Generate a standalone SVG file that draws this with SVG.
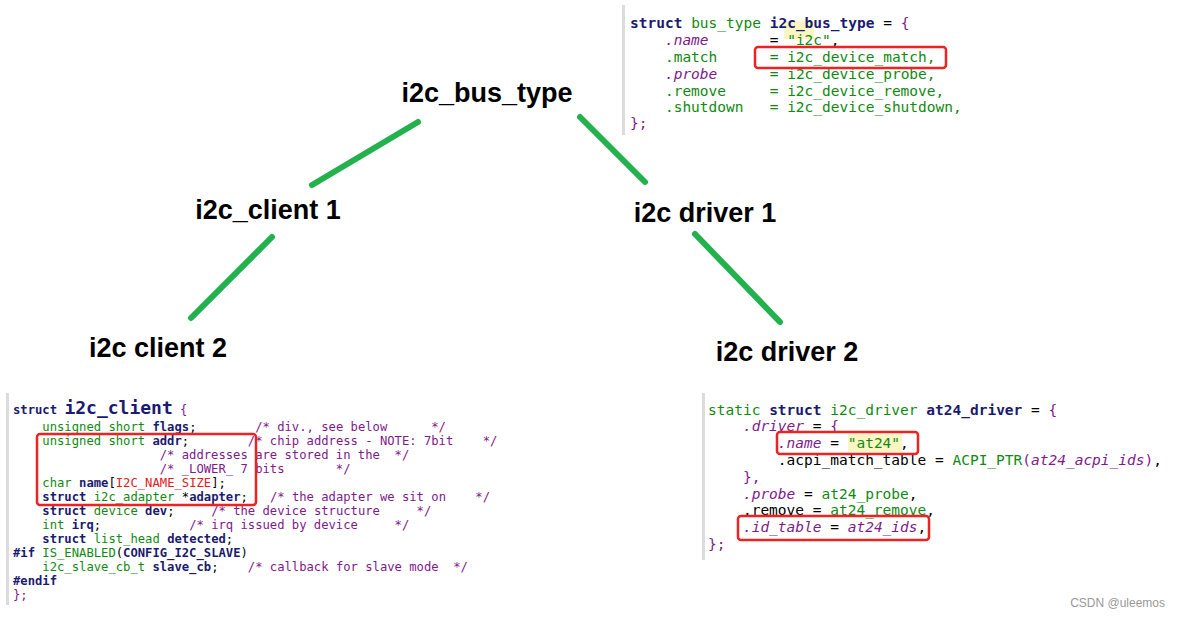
<svg xmlns="http://www.w3.org/2000/svg" width="1180" height="617" viewBox="0 0 1180 617">
<style>
.n{font-family:"Liberation Sans",Arial,sans-serif;font-weight:bold;font-size:27px;fill:#000;text-anchor:middle}
.c{font-family:"DejaVu Sans Mono","Liberation Mono",monospace;font-size:14.5px;fill:#000;white-space:pre}
.s{font-family:"DejaVu Sans Mono","Liberation Mono",monospace;font-size:12.2px;fill:#000;white-space:pre}
.k{fill:#1a1a6e;font-weight:bold}
.g{fill:#118a11}
.p{fill:#7f1a8a;font-style:italic}
.q{fill:#7f1a8a}
.r{fill:#e02020}
.box{fill:none;stroke:#ee2222;stroke-width:2.5}
.gut{fill:#dcdcdc}
.e line{stroke:#22b14c;stroke-width:6;stroke-linecap:round}
</style>
<rect width="1180" height="617" fill="#fff"/>
<g id="code-bus">
<rect class="gut" x="622" y="5" width="3" height="130"/>
<rect x="784" y="21" width="30" height="18" fill="#fbf5c4"/>
<text class="c" x="630" y="28"><tspan class="k">struct</tspan> <tspan class="g">bus_type</tspan> <tspan class="k">i2c_bus_type</tspan> = <tspan class="q">{</tspan></text>
<text class="c" x="630" y="45">    <tspan class="p">.name</tspan>       = <tspan class="g">"i2c"</tspan>,</text>
<text class="c g" x="630" y="62">    .match      = i2c_device_match,</text>
<text class="c" x="630" y="79">    <tspan class="p">.probe</tspan><tspan class="g">      = i2c_device_probe,</tspan></text>
<text class="c g" x="630" y="96">    .remove     = i2c_device_remove,</text>
<text class="c g" x="630" y="112">    .shutdown   = i2c_device_shutdown,</text>
<text class="c q" x="630" y="128">};</text>
<rect class="box" x="755" y="47" width="191" height="21" rx="3"/>
</g>
<g id="code-client">
<rect class="gut" x="6" y="393" width="3" height="212"/>
<text class="s" x="13" y="414"><tspan class="k">struct</tspan> <tspan class="k" style="font-size:18px">i2c_client</tspan> <tspan class="q">{</tspan></text>
<text class="s" x="13" y="431">    <tspan class="g">unsigned short</tspan> <tspan class="k">flags</tspan>;        <tspan class="q">/* div., see below      */</tspan></text>
<text class="s" x="13" y="445">    <tspan class="g">unsigned short</tspan> <tspan class="k">addr</tspan>;        <tspan class="q">/* chip address - NOTE: 7bit    */</tspan></text>
<text class="s q" x="13" y="459">                    /* addresses are stored in the  */</text>
<text class="s q" x="13" y="473">                    /* _LOWER_ 7 bits       */</text>
<text class="s" x="13" y="487">    <tspan class="g">char</tspan> <tspan class="k">name</tspan>[<tspan class="r">I2C_NAME_SIZE</tspan>];</text>
<text class="s" x="13" y="501">    <tspan class="k">struct</tspan> <tspan class="g">i2c_adapter</tspan> *<tspan class="k">adapter</tspan>;   <tspan class="q">/* the adapter we sit on    */</tspan></text>
<text class="s" x="13" y="515">    <tspan class="k">struct</tspan> <tspan class="g">device</tspan> <tspan class="k">dev</tspan>;     <tspan class="q">/* the device structure     */</tspan></text>
<text class="s" x="13" y="529">    <tspan class="g">int</tspan> <tspan class="k">irq</tspan>;            <tspan class="q">/* irq issued by device     */</tspan></text>
<text class="s" x="13" y="543">    <tspan class="k">struct</tspan> <tspan class="g">list_head</tspan> <tspan class="k">detected</tspan>;</text>
<text class="s" x="13" y="557"><tspan class="k">#if</tspan> <tspan class="g">IS_ENABLED</tspan>(<tspan class="k">CONFIG_I2C_SLAVE</tspan>)</text>
<text class="s" x="13" y="571">    <tspan class="g">i2c_slave_cb_t</tspan> <tspan class="k">slave_cb</tspan>;    <tspan class="q">/* callback for slave mode  */</tspan></text>
<text class="s k" x="13" y="585">#endif</text>
<text class="s q" x="13" y="599">};</text>
<rect class="box" x="37" y="434" width="219" height="71" rx="3"/>
</g>
<g id="code-driver">
<rect class="gut" x="702" y="393" width="3" height="167"/>
<rect x="848" y="434" width="54" height="18" fill="#fbf5c4"/>
<text class="c" x="708" y="415"><tspan class="g">static</tspan> <tspan class="k">struct</tspan> <tspan class="g">i2c_driver</tspan> <tspan class="k">at24_driver</tspan> = <tspan class="q">{</tspan></text>
<text class="c" x="708" y="431">    <tspan class="p">.driver</tspan> = <tspan class="q">{</tspan></text>
<text class="c" x="708" y="448">        <tspan class="p">.name</tspan> = <tspan class="g">"at24"</tspan>,</text>
<text class="c" x="708" y="465">        .acpi_match_table = <tspan class="g">ACPI_PTR</tspan><tspan class="q">(</tspan><tspan class="p">at24_acpi_ids</tspan><tspan class="q">)</tspan>,</text>
<text class="c q" x="708" y="482">    },</text>
<text class="c" x="708" y="499">    <tspan class="p">.probe</tspan> = <tspan class="g">at24_probe</tspan>,</text>
<text class="c" x="708" y="515">    .remove = <tspan class="g">at24_remove</tspan>,</text>
<text class="c" x="708" y="532">    <tspan class="p">.id_table</tspan> = <tspan class="p">at24_ids</tspan>,</text>
<text class="c q" x="708" y="549">};</text>
<rect class="box" x="777" y="432" width="141" height="22" rx="3"/>
<rect class="box" x="738" y="516" width="191" height="24" rx="3"/>
</g>
<g class="e" id="connectors">
<line x1="418" y1="122" x2="312" y2="185"/>
<line x1="580" y1="117" x2="645" y2="182"/>
<line x1="272" y1="237" x2="191" y2="318"/>
<line x1="695" y1="234" x2="780" y2="322"/>
</g>
<g id="n-bus"><text class="n" x="487" y="102">i2c_bus_type</text></g>
<g id="n-client1"><text class="n" x="268" y="219">i2c_client 1</text></g>
<g id="n-driver1"><text class="n" x="705" y="222">i2c driver 1</text></g>
<g id="n-client2"><text class="n" x="158" y="357">i2c client 2</text></g>
<g id="n-driver2"><text class="n" x="787" y="361">i2c driver 2</text></g>
<text x="1165" y="607" text-anchor="end" font-family="Liberation Sans,Arial,sans-serif" font-size="12" fill="#999">CSDN @uleemos</text>
</svg>
